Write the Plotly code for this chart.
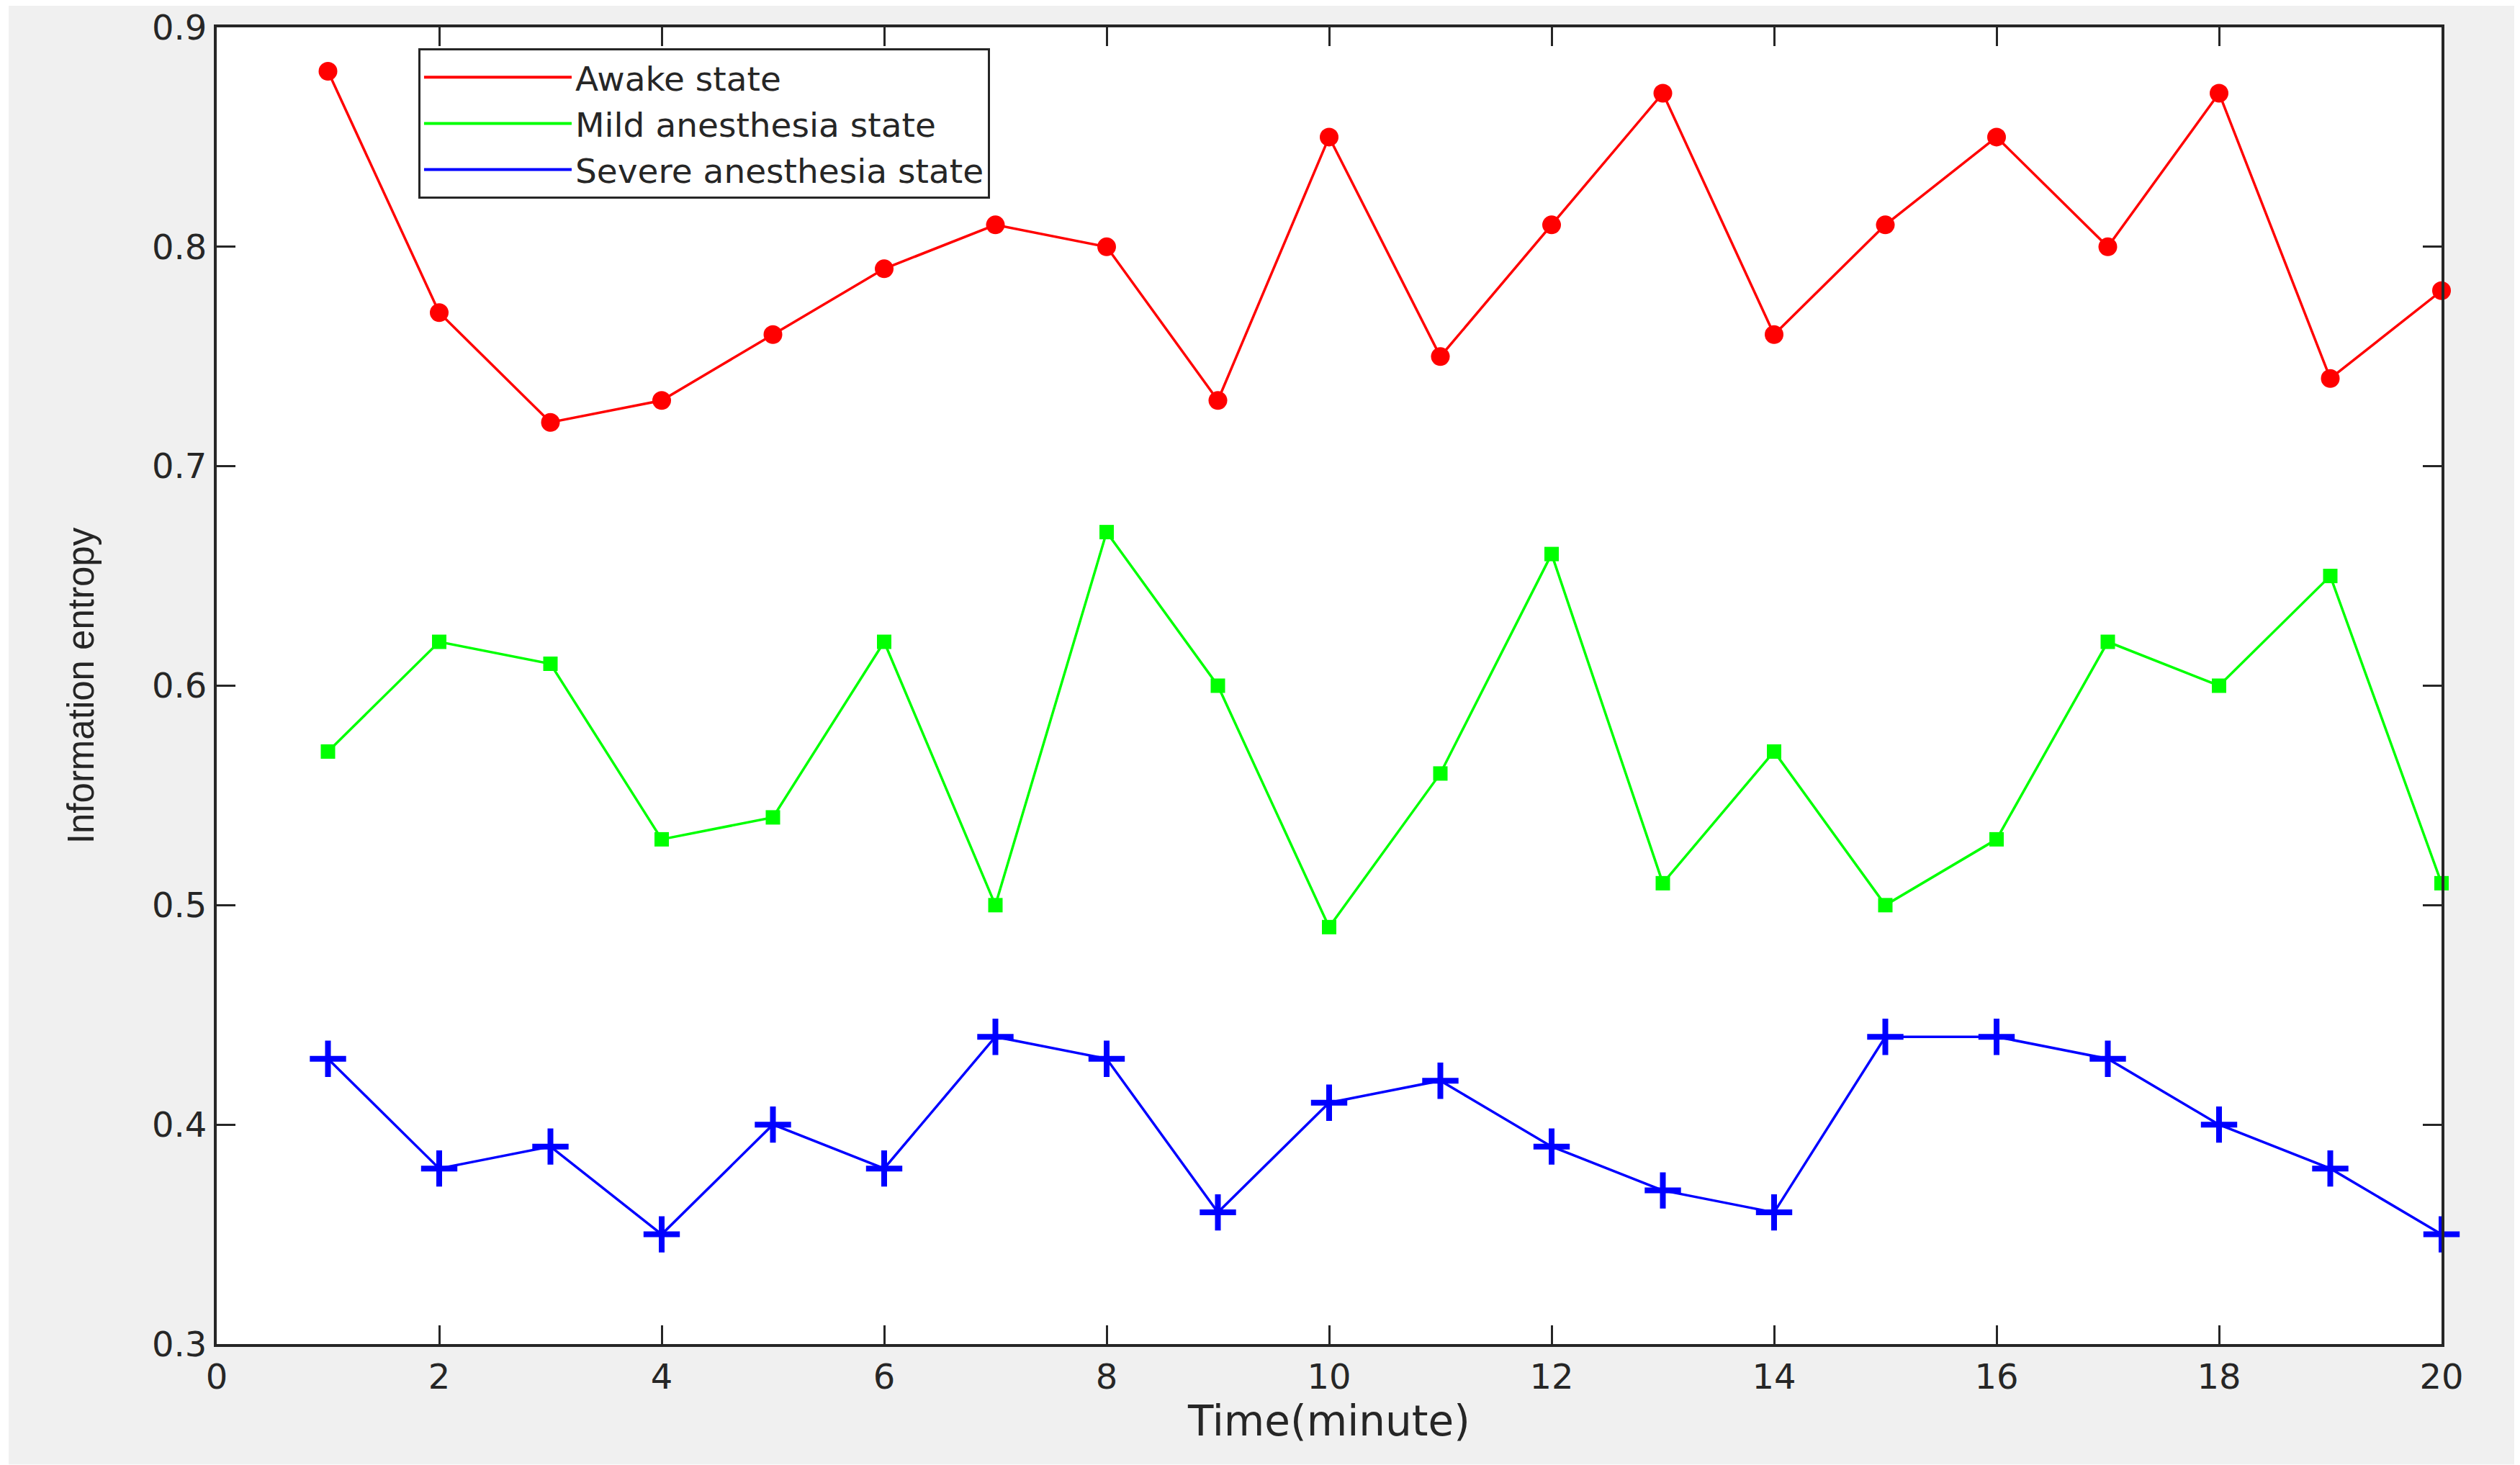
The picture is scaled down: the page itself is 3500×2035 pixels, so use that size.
import plotly.graph_objects as go

# Time axis (minutes) and entropy values
minutes = list(range(1, 21))
awake = [0.88, 0.77, 0.72, 0.73, 0.76, 0.79, 0.81, 0.80, 0.73, 0.85,
         0.75, 0.81, 0.87, 0.76, 0.81, 0.85, 0.80, 0.87, 0.74, 0.78]
mild = [0.57, 0.62, 0.61, 0.53, 0.54, 0.62, 0.50, 0.67, 0.60, 0.49,
        0.56, 0.66, 0.51, 0.57, 0.50, 0.53, 0.62, 0.60, 0.65, 0.51]
severe = [0.43, 0.38, 0.39, 0.35, 0.40, 0.38, 0.44, 0.43, 0.36, 0.41,
          0.42, 0.39, 0.37, 0.36, 0.44, 0.44, 0.43, 0.40, 0.38, 0.35]

series_names = ["Awake state", "Mild anesthesia state", "Severe anesthesia state"]
x_ticks = list(range(0, 21, 2))
y_ticks = [0.3, 0.4, 0.5, 0.6, 0.7, 0.8, 0.9]

FONT = "DejaVu Sans, Liberation Sans, sans-serif"
YFONT = "Liberation Sans, Arial, sans-serif"
AX = "#262626"

fig = go.Figure()

styles = [
    (awake, "#ff0000", dict(symbol="circle", size=26)),
    (mild, "#00ff00", dict(symbol="square", size=20)),
    (severe, "#0000ff", dict(symbol="cross-thin", size=36,
                             line=dict(width=8, color="#0000ff"))),
]

for (vals, color, mk), name in zip(styles, series_names):
    fig.add_trace(go.Scatter(
        x=minutes, y=vals, mode="lines+markers",
        line=dict(color=color, width=3.5),
        marker=dict(color=color, **mk),
        showlegend=False, cliponaxis=False,
    ))
    # legend entry shows only the line, like the MATLAB legend
    fig.add_trace(go.Scatter(
        x=[None], y=[None], mode="lines", name=name,
        line=dict(color=color, width=4),
    ))

# thin white frame round the grey figure background (sides and bottom)
edge = dict(type="rect", xref="paper", yref="paper", layer="above",
            line=dict(width=0), fillcolor="white")
fig.update_layout(shapes=[
    dict(edge, x0=-0.1, x1=1.05, y0=-0.1, y1=-0.0915),
    dict(edge, x0=1.0355, x1=1.05, y0=-0.1, y1=1.02),
    dict(edge, x0=-0.1, x1=-0.0935, y0=-0.1, y1=1.02),
])

fig.update_layout(
    width=3500, height=2035,
    paper_bgcolor="#f0f0f0", plot_bgcolor="white",
    margin=dict(l=293, r=117, t=30, b=176),
    font=dict(family=FONT, color=AX),
    legend=dict(
        x=0.0906, y=0.984, xanchor="left", yanchor="top",
        bgcolor="white", bordercolor=AX, borderwidth=3,
        font=dict(size=47, color=AX), itemwidth=205,
        tracegroupgap=0,
    ),
)

fig.update_xaxes(
    range=[0, 20], tickvals=x_ticks, ticks="inside", ticklen=26,
    tickwidth=3, tickcolor=AX, showline=True, linewidth=4, linecolor=AX,
    mirror="ticks", showgrid=False, zeroline=False, automargin=False,
    tickfont=dict(size=48, color=AX), ticklabeloverflow="allow",
    title=dict(text="Time(minute)", font=dict(size=58, color=AX), standoff=10),
)
fig.update_yaxes(
    range=[0.3, 0.9], tickvals=y_ticks, tickformat=".1f", ticks="inside",
    ticklen=26, tickwidth=3, tickcolor=AX, showline=True, linewidth=4,
    linecolor=AX, mirror="ticks", showgrid=False, zeroline=False,
    automargin=False, tickfont=dict(size=48, color=AX),
    ticklabeloverflow="allow",
    title=dict(text="Information entropy",
               font=dict(size=51, color=AX, family=YFONT), standoff=65),
)

fig.write_html("out.html")
